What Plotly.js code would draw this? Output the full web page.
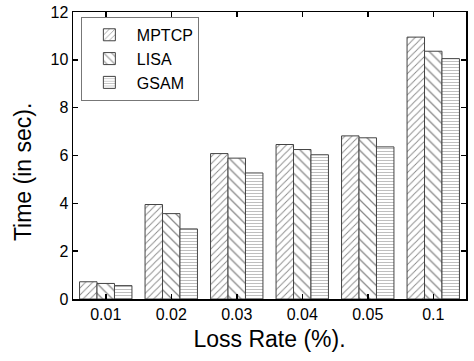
<!DOCTYPE html>
<html>
<head>
<meta charset="utf-8">
<script src="https://cdn.plot.ly/plotly-3.0.1.min.js"></script>
<style>html,body{margin:0;padding:0;background:#fff;}#chart{width:474px;height:361px;}</style>
</head>
<body>
<div id="chart"></div>
<script>
const categories = ["0.01", "0.02", "0.03", "0.04", "0.05", "0.1"];
const mptcp = [0.72, 3.95, 6.08, 6.46, 6.82, 10.95];
const lisa = [0.65, 3.57, 5.89, 6.25, 6.74, 10.36];
const gsam = [0.56, 2.93, 5.27, 6.03, 6.36, 10.05];
const yTicks = [0, 2, 4, 6, 8, 10, 12];

const FONT = "Liberation Sans, Arial, sans-serif";

function barTrace(name, values, shape, size) {
  return {
    type: "bar", name: name, x: categories, y: values,
    marker: {
      color: "#ffffff",
      line: {color: "#444444", width: 1},
      pattern: {shape: shape, fgcolor: "#111111", bgcolor: "#ffffff", size: size, solidity: 0.18, fillmode: "overlay"}
    }
  };
}

const data = [
  barTrace("MPTCP", mptcp, "/", 5),
  barTrace("LISA", lisa, "\\", 7),
  barTrace("GSAM", gsam, "-", 3)
];

const axisCommon = {
  showline: true, linecolor: "#000", linewidth: 1.5, mirror: "ticks",
  ticks: "inside", ticklen: 5, tickwidth: 1.5, tickcolor: "#000",
  showgrid: false, zeroline: false,
  tickfont: {family: FONT, size: 16, color: "#000"}
};

const layout = {
  width: 474, height: 361,
  margin: {l: 73, r: 8, t: 12, b: 62},
  paper_bgcolor: "#fff", plot_bgcolor: "#fff",
  barmode: "group", bargap: 0.2, bargroupgap: 0,
  showlegend: true,
  legend: {
    x: 0.02, y: 0.983, xanchor: "left", yanchor: "top",
    bordercolor: "#777", borderwidth: 1, bgcolor: "#fff",
    font: {family: FONT, size: 16, color: "#000"},
    itemwidth: 45,
    tracegroupgap: 0
  },
  xaxis: Object.assign({}, axisCommon, {
    type: "category",
    title: {text: "Loss Rate (%).", font: {family: FONT, size: 23, color: "#000"}, standoff: 9}
  }),
  yaxis: Object.assign({}, axisCommon, {
    range: [0, 12], tickvals: yTicks, ticktext: yTicks.map(String)
  }),
  annotations: [{
    text: "Time (in sec).", textangle: -90, showarrow: false,
    xref: "paper", yref: "paper", x: -0.127, y: 0.4425,
    xanchor: "center", yanchor: "middle",
    font: {family: FONT, size: 23, color: "#000"}
  }]
};

Plotly.newPlot("chart", data, layout, {displayModeBar: false, staticPlot: true});
</script>
</body>
</html>
